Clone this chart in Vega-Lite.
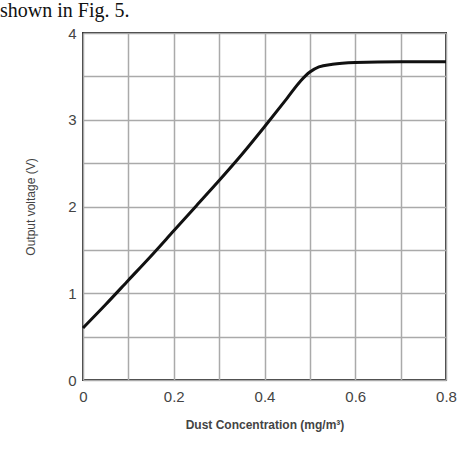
{
  "$schema": "https://vega.github.io/schema/vega-lite/v6.json",
  "width": 363,
  "height": 347,
  "autosize": "none",
  "padding": {"left": 83, "top": 33, "right": 28, "bottom": 70},
  "background": "white",
  "title": {
    "text": "shown in Fig. 5.",
    "anchor": "start",
    "frame": "group",
    "dx": -83,
    "offset": -11,
    "baseline": "alphabetic",
    "font": "Liberation Serif",
    "fontSize": 20,
    "fontWeight": "normal",
    "color": "#111"
  },
  "config": {
    "view": {"stroke": "#333", "strokeWidth": 2},
    "axis": {
      "grid": true,
      "gridColor": "#aaa",
      "gridWidth": 1.5,
      "domain": false,
      "ticks": false,
      "labelFont": "Liberation Sans",
      "labelFontSize": 15,
      "labelColor": "#444",
      "titleFont": "Liberation Sans",
      "titleColor": "#444"
    }
  },
  "data": {
    "values": [
      {"conc": 0.0, "volt": 0.6},
      {"conc": 0.05, "volt": 0.87},
      {"conc": 0.1, "volt": 1.15},
      {"conc": 0.15, "volt": 1.43},
      {"conc": 0.2, "volt": 1.72},
      {"conc": 0.25, "volt": 2.01},
      {"conc": 0.3, "volt": 2.3},
      {"conc": 0.35, "volt": 2.6},
      {"conc": 0.4, "volt": 2.92},
      {"conc": 0.45, "volt": 3.25},
      {"conc": 0.48, "volt": 3.45},
      {"conc": 0.5, "volt": 3.55},
      {"conc": 0.52, "volt": 3.61},
      {"conc": 0.55, "volt": 3.64},
      {"conc": 0.6, "volt": 3.66},
      {"conc": 0.7, "volt": 3.67},
      {"conc": 0.8, "volt": 3.67}
    ]
  },
  "mark": {"type": "line", "color": "#111", "strokeWidth": 3, "interpolate": "monotone"},
  "encoding": {
    "x": {
      "field": "conc",
      "type": "quantitative",
      "scale": {"domain": [0, 0.8], "nice": false},
      "axis": {
        "title": "Dust Concentration (mg/m³)",
        "titleFontSize": 12,
        "titleFontWeight": "bold",
        "titlePadding": 15,
        "labelPadding": 9,
        "values": [0, 0.1, 0.2, 0.3, 0.4, 0.5, 0.6, 0.7, 0.8],
        "labelExpr": "round(datum.value * 10) % 2 == 0 ? format(datum.value, '.1~f') : ''",
        "labelFlush": false
      }
    },
    "y": {
      "field": "volt",
      "type": "quantitative",
      "scale": {"domain": [0, 4], "nice": false},
      "axis": {
        "title": "Output voltage (V)",
        "titleFontSize": 12,
        "titleFontWeight": "normal",
        "titlePadding": 30,
        "labelPadding": 7,
        "values": [0, 0.5, 1, 1.5, 2, 2.5, 3, 3.5, 4],
        "labelExpr": "round(datum.value * 2) % 2 == 0 ? format(datum.value, 'd') : ''",
        "labelFlush": false
      }
    }
  }
}
